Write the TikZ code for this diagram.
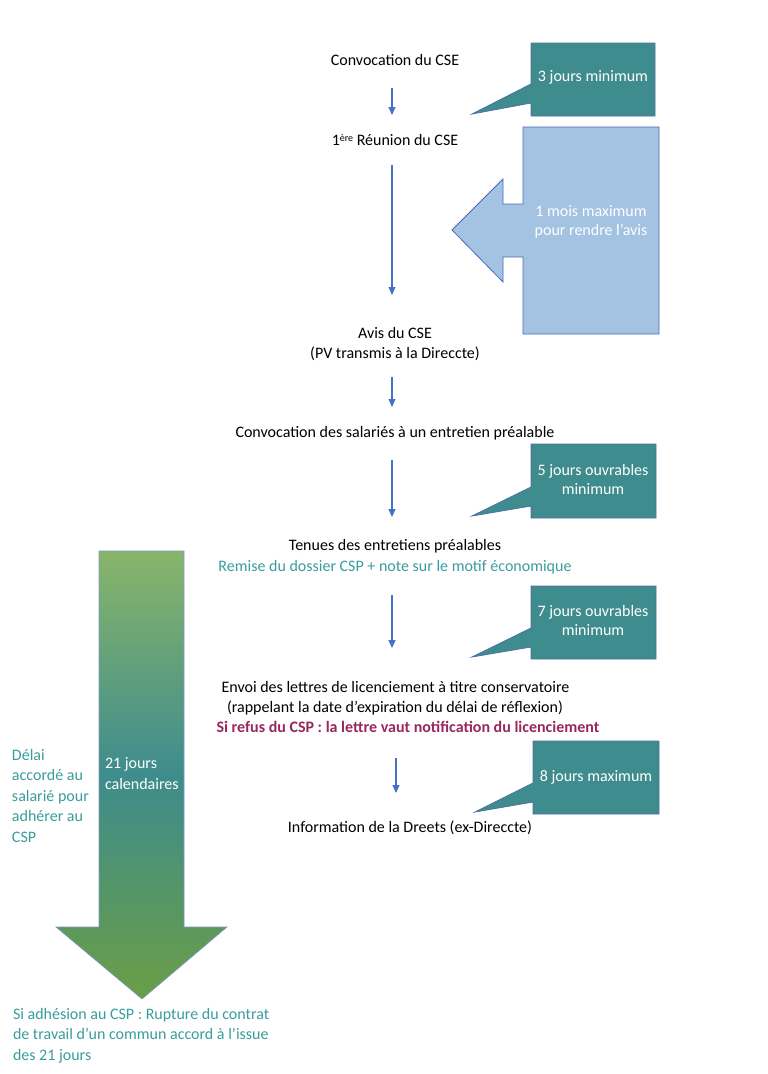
\documentclass[tikz,border=0pt]{standalone}
\usepackage{fontspec}
\setmainfont{Carlito}
\usetikzlibrary{arrows.meta}
\definecolor{tealbox}{HTML}{3F8C8E}
\definecolor{tealedge}{HTML}{4F6FA8}
\definecolor{bluebox}{HTML}{A4C2E1}
\definecolor{blueedge}{HTML}{4A6DB0}
\definecolor{arrowblue}{HTML}{4472C4}
\definecolor{tealtext}{HTML}{3A9C9C}
\definecolor{maroon}{HTML}{98275C}
\definecolor{gtop}{HTML}{88B56A}
\definecolor{gmid}{HTML}{3E8C8D}
\definecolor{gbot}{HTML}{6A9E46}
\begin{document}
\begin{tikzpicture}[x=1pt,y=-1pt,
  every node/.style={inner sep=0pt,outer sep=0pt,font=\fontsize{16}{19.5}\selectfont},
  txt/.style={anchor=base,text=black},
  ltxt/.style={anchor=base west,text=tealtext},
  ctxt/.style={anchor=base,text=white},
  flow/.style={draw=arrowblue,line width=1.1pt,-{Triangle[width=7pt,length=8pt]}},
  callout/.style={fill=tealbox,draw=tealedge,line width=0.8pt,line join=miter},
  bigcallout/.style={fill=bluebox,draw=blueedge,line width=0.8pt},
  greenarrow/.style={draw=blueedge!70,line width=0.6pt,top color=gtop,bottom color=gbot,middle color=gmid}
]
\useasboundingbox (0,0) rectangle (768,1074);

% ---- left green arrow
\path[greenarrow] (99,551) -- (184,551) -- (184,927) -- (227,927) -- (142,999) -- (56,927) -- (99,927) -- cycle;
\node[anchor=base west,text=white] (j1) at (105,768) {21 jours};
\node[anchor=base west,text=white] (j2) at (105,789) {calendaires};

\node[ltxt] (d1) at (12,760) {Délai};
\node[ltxt] (d2) at (12,780.6) {accordé au};
\node[ltxt] (d3) at (12,801.2) {salarié pour};
\node[ltxt] (d4) at (12,821.8) {adhérer au};
\node[ltxt] (d5) at (12,842.4) {CSP};

\node[ltxt] (s1) at (13,1019) {Si adhésion au CSP : Rupture du contrat};
\node[ltxt] (s2) at (13,1039.5) {de travail d’un commun accord à l’issue};
\node[ltxt] (s3) at (13,1060) {des 21 jours};

% ---- callouts
\path[callout] (531,43) -- (655,43) -- (655,116) -- (531,116) -- (531,103) -- (472,114) -- (531,84) -- cycle;
\node[ctxt] (c1) at (593,81) {3 jours minimum};

\path[bigcallout] (523,127) -- (659,127) -- (659,334) -- (523,334) -- (523,257) -- (503,257) -- (503,282) -- (452,230) -- (503,179) -- (503,204) -- (523,204) -- cycle;
\node[ctxt] (m1) at (591,216) {1 mois maximum};
\node[ctxt] (m2) at (591,235) {pour rendre l’avis};

\path[callout] (531,444) -- (656,444) -- (656,518) -- (531,518) -- (531,506) -- (472,516) -- (531,487) -- cycle;
\node[ctxt] (c5a) at (593,475) {5 jours ouvrables};
\node[ctxt] (c5b) at (593,494) {minimum};

\path[callout] (531,586) -- (656,586) -- (656,659) -- (531,659) -- (531,647) -- (472,657) -- (531,628) -- cycle;
\node[ctxt] (c7a) at (593,616) {7 jours ouvrables};
\node[ctxt] (c7b) at (593,635) {minimum};

\path[callout] (533,741) -- (659,741) -- (659,814) -- (533,814) -- (533,802) -- (475,812) -- (533,783) -- cycle;
\node[ctxt] (c8) at (596,781) {8 jours maximum};

% ---- main flow texts
\node[txt] (n1) at (395,65) {Convocation du CSE};
\node[txt] (n2) at (395,145) {1\raisebox{4pt}{\fontsize{10}{10}\selectfont ère} Réunion du CSE};
\node[txt] (n3a) at (395,338) {Avis du CSE};
\node[txt] (n3b) at (395,358) {(PV transmis à la Direccte)};
\node[txt] (n4) at (395,437) {Convocation des salariés à un entretien préalable};
\node[txt] (n5a) at (395,550) {Tenues des entretiens préalables};
\node[anchor=base,text=tealtext] (n5b) at (395,571) {Remise du dossier CSP + note sur le motif économique};
\node[txt] (n6a) at (395.5,692) {Envoi des lettres de licenciement à titre conservatoire};
\node[txt] (n6b) at (395,712) {(rappelant la date d’expiration du délai de réflexion)};
\node[anchor=base,text=maroon,font=\fontsize{16}{19.5}\selectfont\bfseries] (n6c) at (408,732) {Si refus du CSP : la lettre vaut notification du licenciement};
\node[txt] (n7) at (410,832) {Information de la Dreets (ex-Direccte)};

% ---- flow arrows
\coordinate (a1s) at (392,88);  \coordinate (a1e) at (392,115);
\coordinate (a2s) at (392,165); \coordinate (a2e) at (392,295);
\coordinate (a3s) at (392,377); \coordinate (a3e) at (392,407);
\coordinate (a4s) at (392,460); \coordinate (a4e) at (392,517);
\coordinate (a5s) at (392,595); \coordinate (a5e) at (392,648);
\coordinate (a6s) at (396,758); \coordinate (a6e) at (396,793);
\draw[flow] (a1s) -- (a1e);
\draw[flow] (a2s) -- (a2e);
\draw[flow] (a3s) -- (a3e);
\draw[flow] (a4s) -- (a4e);
\draw[flow] (a5s) -- (a5e);
\draw[flow] (a6s) -- (a6e);
\end{tikzpicture}
\end{document}
